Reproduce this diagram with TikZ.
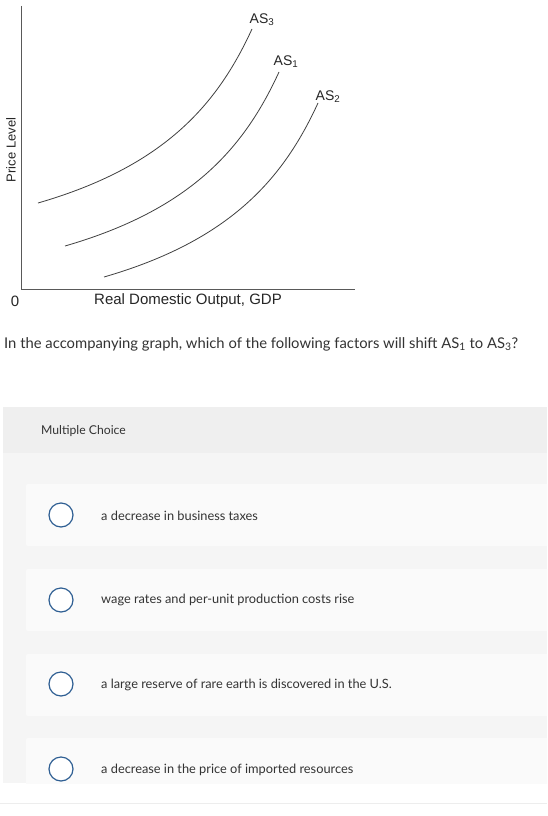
\documentclass[tikz,border=0pt]{standalone}
\usepackage{fontspec}
\setmainfont{Liberation Sans}
\newfontfamily\qfont{Lato}
\usetikzlibrary{calc}
\definecolor{inkgray}{HTML}{333333}
\definecolor{headgray}{HTML}{EFEFEF}
\definecolor{panelgray}{HTML}{F5F5F5}
\definecolor{boxgray}{HTML}{FAFAFA}
\definecolor{radioblue}{HTML}{2F5F93}
\tikzset{
	axisline/.style={line width=1pt, color=black!65},
	ascurve/.style={line width=0.8pt, color=black!75},
	chartlbl/.style={inner sep=0pt, text=black!85, font=\fontsize{15}{17}\selectfont},
	qtext/.style={inner sep=0pt, anchor=west, text=inkgray, font=\qfont\fontsize{14.8}{17}\selectfont},
	opttext/.style={inner sep=0pt, anchor=west, text=inkgray, font=\qfont\fontsize{12.8}{15}\selectfont},
	optbox/.style={fill=boxgray, draw=none, rounded corners=2pt},
	radiobtn/.style={circle, draw=radioblue, line width=1.2pt, fill=white, minimum size=24pt, inner sep=0pt}
}

\begin{document}
\begin{tikzpicture}[x=1pt, y=-1pt]
		%%%%% START %%%%%
		\useasboundingbox[fill=white] (0, 0) rectangle (547, 816);
		
		% axes
		\coordinate (top) at (21, 6);
		\coordinate (orig) at (21, 289);
		\coordinate (right) at (355, 289);
		\draw[axisline] (top) -- (orig) -- (right);
		
		\node[chartlbl] (zero) at (15, 301) {0};
		\node[chartlbl] (xlbl) at (188, 301) {Real Domestic Output, GDP};
		\node[chartlbl, rotate=90, font=\fontsize{13}{15}\selectfont] (ylbl) at (11, 150) {Price Level};
		
		% supply curves
		\draw[ascurve] (38, 203) .. controls (166, 166) and (218, 103) .. (252, 29) coordinate (as3end);
		\draw[ascurve] (65, 246) .. controls (193, 209) and (245, 146) .. (279, 72) coordinate (as1end);
		\draw[ascurve] (104, 277) .. controls (232, 240) and (284, 177) .. (318, 103) coordinate (as2end);
		
		\node[chartlbl, font=\fontsize{14}{16}\selectfont] (as3) at (262, 20) {AS\textsubscript{3}};
		\node[chartlbl, font=\fontsize{14}{16}\selectfont] (as1) at (286, 62) {AS\textsubscript{1}};
		\node[chartlbl, font=\fontsize{14}{16}\selectfont] (as2) at (328, 97) {AS\textsubscript{2}};
		
		% question
		\node[qtext] (question) at (4, 344) {In the accompanying graph, which of the following factors will shift AS\textsubscript{1} to AS\textsubscript{3}?};
		
		% answer panel
		\fill[panelgray] (3, 407) rectangle (547, 783);
		\fill[headgray] (3, 407) rectangle (547, 453);
		\node[opttext, font=\qfont\fontsize{12.2}{14}\selectfont] (mc) at (41, 431) {Multiple Choice};
		
		\begin{scope}
			\clip (3, 407) rectangle (547, 783);
			\draw[optbox] (26, 484) rectangle (560, 546);
			\draw[optbox] (26, 569) rectangle (560, 631);
			\draw[optbox] (26, 654) rectangle (560, 716);
			\draw[optbox] (26, 738) rectangle (560, 800);
			
			\node[radiobtn] (r1) at (61, 515) {};
			\node[radiobtn] (r2) at (61, 600) {};
			\node[radiobtn] (r3) at (61, 684) {};
			\node[radiobtn] (r4) at (61, 769) {};
		\end{scope}
		
		\node[opttext] (opt1) at (101, 516) {a decrease in business taxes};
		\node[opttext] (opt2) at (101, 600) {wage rates and per-unit production costs rise};
		\node[opttext] (opt3) at (101, 685) {a large reserve of rare earth is discovered in the U.S.};
		\node[opttext] (opt4) at (101, 770) {a decrease in the price of imported resources};
		
		\draw[line width=0.8pt, color=black!7] (0, 803) -- (547, 803);
		%%%%% END %%%%%
	\end{tikzpicture}
\end{document}
